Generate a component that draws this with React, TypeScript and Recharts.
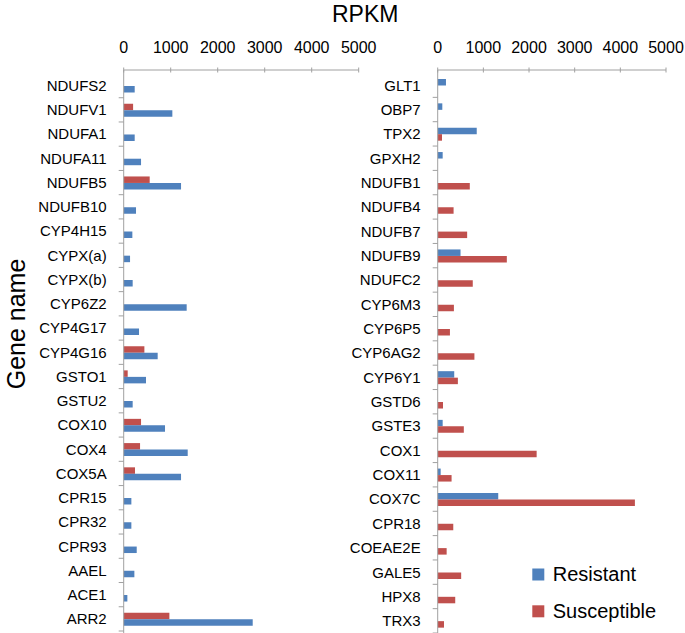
import React from 'react';
import { BarChart, Bar, XAxis, YAxis } from 'recharts';

const leftGenes = ['NDUFS2','NDUFV1','NDUFA1','NDUFA11','NDUFB5','NDUFB10','CYP4H15','CYPX(a)','CYPX(b)','CYP6Z2','CYP4G17','CYP4G16','GSTO1','GSTU2','COX10','COX4','COX5A','CPR15','CPR32','CPR93','AAEL','ACE1','ARR2'];
const leftResistant = [234,1035,234,369,1220,262,184,135,191,1340,326,723,475,191,879,1362,1220,163,163,277,227,78,2745];
const leftSusceptible = [0,200,0,0,553,0,0,0,0,0,0,440,85,0,369,348,241,0,0,0,0,0,972];

const rightGenes = ['GLT1','OBP7','TPX2','GPXH2','NDUFB1','NDUFB4','NDUFB7','NDUFB9','NDUFC2','CYP6M3','CYP6P5','CYP6AG2','CYP6Y1','GSTD6','GSTE3','COX1','COX11','COX7C','CPR18','COEAE2E','GALE5','HPX8','TRX3'];
const rightResistant = [181,101,855,109,0,0,0,500,0,0,0,0,362,0,109,0,65,1326,0,0,0,0,0];
const rightSusceptible = [0,0,94,0,703,348,645,1514,768,355,268,804,442,116,572,2167,304,4319,341,196,514,384,138];

const xTicks = [0, 1000, 2000, 3000, 4000, 5000];
const seriesNames = ['Resistant', 'Susceptible'];

const BLUE = '#4F81BD';
const RED = '#C0504D';
const AXIS = '#A0A0A0';
const FONT = '"Liberation Sans", Arial, sans-serif';
const AXIS_Y = 70;

const leftData = leftGenes.map((g, i) => ({ name: g, Resistant: leftResistant[i], Susceptible: leftSusceptible[i] }));
const rightData = rightGenes.map((g, i) => ({ name: g, Resistant: rightResistant[i], Susceptible: rightSusceptible[i] }));

const XTick = (props: any) => {
  const { x, payload } = props;
  return (
    <g>
      <line x1={x} x2={x} y1={AXIS_Y - 2.5} y2={AXIS_Y + 2.5} stroke={AXIS} strokeWidth={1} />
      <text x={x} y={53} textAnchor="middle" fontSize={16} fontFamily={FONT} fill="#000">{payload.value}</text>
    </g>
  );
};

const makeYTick = (band: number) => (props: any) => {
  const { x, y, payload } = props;
  const ax = x + 17;
  return (
    <g>
      <text x={x} y={y} dy={5.4} textAnchor="end" fontSize={15} fontFamily={FONT} fill="#000">{payload.value}</text>
      <line x1={ax - 5} x2={ax} y1={y + band / 2} y2={y + band / 2} stroke={AXIS} strokeWidth={1} />
    </g>
  );
};

const leftBand = (631 - 73.5) / leftGenes.length;
const rightBand = (633.5 - 73) / rightGenes.length;

export default function App() {
  return (
    <div style={{ position: 'absolute', left: 0, top: 0, width: 685, height: 633, background: '#fff', overflow: 'hidden' }}>
      <div style={{ position: 'absolute', left: 0, top: 0 }}>
        <BarChart
          width={390}
          height={633}
          data={leftData}
          layout="vertical"
          margin={{ top: 0, right: 31.3, left: 0, bottom: 0 }}
          barSize={6.5}
          barGap={0}
        >
          <XAxis
            type="number"
            orientation="top"
            domain={[0, 5000]}
            ticks={xTicks}
            height={AXIS_Y}
            axisLine={{ stroke: AXIS }}
            tickLine={false}
            tick={<XTick />}
            interval={0}
          />
          <YAxis
            type="category"
            dataKey="name"
            width={123.7}
            padding={{ top: 3.5, bottom: 2 }}
            axisLine={{ stroke: AXIS }}
            tickLine={false}
            tickSize={5}
            tickMargin={12}
            interval={0}
            tick={makeYTick(leftBand)}
          />
          <Bar dataKey="Susceptible" fill={RED} isAnimationActive={false} />
          <Bar dataKey="Resistant" fill={BLUE} isAnimationActive={false} />
        </BarChart>
      </div>
      <div style={{ position: 'absolute', left: 320, top: 0 }}>
        <BarChart
          width={365}
          height={633}
          data={rightData}
          layout="vertical"
          margin={{ top: 0, right: 19, left: 0, bottom: 0 }}
          barSize={6.5}
          barGap={0}
        >
          <XAxis
            type="number"
            orientation="top"
            domain={[0, 5000]}
            ticks={xTicks}
            height={AXIS_Y}
            axisLine={{ stroke: AXIS }}
            tickLine={false}
            tick={<XTick />}
            interval={0}
          />
          <YAxis
            type="category"
            dataKey="name"
            width={117.7}
            padding={{ top: 3, bottom: 0 }}
            axisLine={{ stroke: AXIS }}
            tickLine={false}
            tickSize={5}
            tickMargin={12}
            interval={0}
            tick={makeYTick(rightBand)}
          />
          <Bar dataKey="Resistant" fill={BLUE} isAnimationActive={false} />
          <Bar dataKey="Susceptible" fill={RED} isAnimationActive={false} />
        </BarChart>
      </div>
      <svg width={685} height={633} style={{ position: 'absolute', left: 0, top: 0, pointerEvents: 'none' }}>
        <text x={332} y={22} fontSize={23} fontFamily={FONT} fill="#000">RPKM</text>
        <text x={25} y={324} fontSize={25} fontFamily={FONT} fill="#000" textAnchor="middle" transform="rotate(-90 25 324)">Gene name</text>
        <rect x={532.3} y={568.5} width={12} height={12} fill={BLUE} />
        <text x={552.7} y={581} fontSize={20} fontFamily={FONT} fill="#000">{seriesNames[0]}</text>
        <rect x={532.3} y={605.3} width={12} height={12} fill={RED} />
        <text x={552.7} y={617.5} fontSize={20} fontFamily={FONT} fill="#000">{seriesNames[1]}</text>
      </svg>
    </div>
  );
}
